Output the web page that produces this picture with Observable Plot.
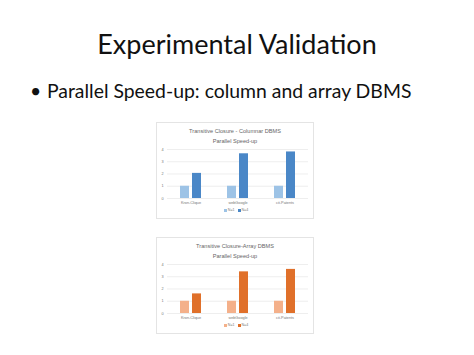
<!DOCTYPE html>
<html>
<head>
<meta charset="utf-8">
<script src="https://cdn.jsdelivr.net/npm/d3@7"></script>
<script src="https://cdn.jsdelivr.net/npm/@observablehq/plot@0.6"></script>
<style>
  html, body { margin: 0; padding: 0; background: #fff; }
  body { width: 474px; height: 355px; position: relative; overflow: hidden; font-family: Lato, "Open Sans", sans-serif; }
  .title { position: absolute; left: 0; width: 474px; top: 27px; text-align: center; font-size: 27px; color: #111; white-space: nowrap; }
  .bullet { position: absolute; left: 30px; top: 79px; font-size: 19.4px; color: #111; white-space: nowrap; }
  .bullet .dot { display: inline-block; width: 17px; }
  .chart { position: absolute; left: 156px; width: 158px; height: 97px; border: 1px solid #e4e4e4; box-sizing: border-box; background: #fff; }
  .ctitle { text-align: center; font-size: 5.6px; line-height: 9.5px; color: #666; padding-top: 4px; height: 18px; font-family: "Liberation Sans", sans-serif; }
  .chart svg { display: block; }
  .legend { text-align: center; font-size: 3.6px; color: #777; font-family: "Liberation Sans", sans-serif; margin-top: 1px; }
  .legend span.sw { display: inline-block; width: 3px; height: 3px; margin: 0 1px 0 2px; vertical-align: middle; }
</style>
</head>
<body>
<div class="title">Experimental Validation</div>
<div class="bullet"><span class="dot">•</span>Parallel Speed-up: column and array DBMS</div>
<div id="c1" class="chart" style="top:122px"></div>
<div id="c2" class="chart" style="top:237px"></div>
<script>
const categories = ["Kron-Clique", "webGoogle", "cit-Patents"];
const series = ["N=1", "N=4"];
const columnarN1 = [1, 1, 1];
const columnarN4 = [2.05, 3.65, 3.8];
const arrayN1 = [1, 1, 1];
const arrayN4 = [1.6, 3.4, 3.6];
const yTicks = [0, 1, 2, 3, 4];

function draw(id, titleLines, n1, n4, colors) {
  const el = document.getElementById(id);
  const t = document.createElement("div");
  t.className = "ctitle";
  t.innerHTML = titleLines.join("<br>");
  el.appendChild(t);
  const data = [];
  categories.forEach((c, i) => {
    data.push({cat: c, s: series[0], v: n1[i]});
    data.push({cat: c, s: series[1], v: n4[i]});
  });
  const svg = Plot.plot({
    width: 156,
    height: 62,
    marginLeft: 9,
    marginRight: 4,
    marginTop: 4,
    marginBottom: 9,
    style: {fontSize: "3.8px", fontFamily: "Liberation Sans, sans-serif", color: "#777", background: "transparent"},
    fx: {domain: categories, padding: 0, label: null, axis: "bottom", tickSize: 0, tickPadding: 3},
    x: {domain: series, axis: null, paddingInner: 0.23, paddingOuter: 0.96},
    y: {domain: [0, 4], ticks: yTicks, tickFormat: "d", tickSize: 0, tickPadding: 4, label: null, grid: false},
    color: {domain: series, range: colors},
    marks: [
      Plot.ruleY(yTicks, {stroke: "#e2e2e2", strokeWidth: 0.6}),
      Plot.barY(data, {fx: "cat", x: "s", y: "v", fill: "s"})
    ]
  });
  el.appendChild(svg);
  const lg = document.createElement("div");
  lg.className = "legend";
  lg.innerHTML = series.map((s, i) => `<span class="sw" style="background:${colors[i]}"></span>${s}`).join(" ");
  el.appendChild(lg);
}

draw("c1", ["Transitive Closure - Columnar DBMS", "Parallel Speed-up"], columnarN1, columnarN4, ["#9dc3e6", "#4a87c7"]);
draw("c2", ["Transitive Closure-Array DBMS", "Parallel Speed-up"], arrayN1, arrayN4, ["#f4b08a", "#e0702a"]);
</script>
</body>
</html>
